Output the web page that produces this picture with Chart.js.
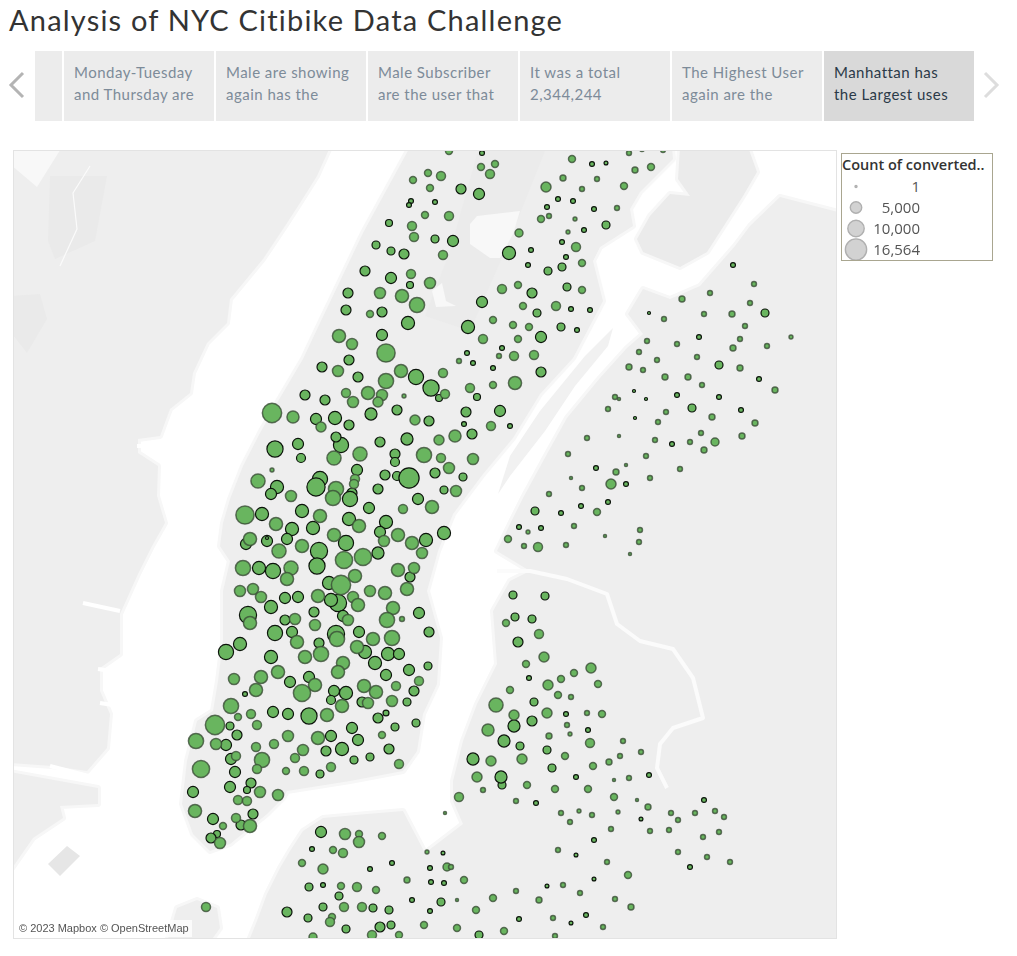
<!DOCTYPE html>
<html>
<head>
<meta charset="utf-8">
<title>Analysis of NYC Citibike Data Challenge</title>
<script src="https://cdn.jsdelivr.net/npm/chart.js@4"></script>
<style>
  html, body { margin: 0; padding: 0; background: #fff; width: 1017px; height: 956px; overflow: hidden; font-family: Lato, sans-serif; }
  .abs { position: absolute; }
  #title { left: 9px; top: 1px; font-size: 29px; line-height: 38px; color: #333; letter-spacing: 1.2px; white-space: nowrap; }
  .tile { position: absolute; top: 51px; height: 70px; background: #ececec; color: #7d8b99; font-size: 15px; line-height: 22px; letter-spacing: 0.48px; box-sizing: border-box; padding: 10px 0 0 10px; overflow: hidden; white-space: nowrap; }
  .tile.active { background: #d9d9d9; color: #2b3a48; }
  #mapBox { left: 13px; top: 150px; width: 822px; height: 787px; border: 1px solid #e3e3e3; }
  #mapBox canvas { position: absolute; left: 0; top: 0; }
  #attribution { left: 17px; top: 920px; width: 175px; height: 17px; background: rgba(255,255,255,.75); font: 11px/17px "Liberation Sans", sans-serif; color: #555; padding-left: 2px; box-sizing: border-box; white-space: nowrap; }
  #legendBox { left: 841px; top: 153px; width: 150px; height: 106px; border: 1px solid #a9a690; }
  #legendTitle { left: 842px; top: 154px; font: 600 14.5px/21px "Open Sans", sans-serif; color: #333; white-space: nowrap; }
  .legendLabel { position: absolute; right: 97px; font: 15px/21px "Open Sans", sans-serif; color: #555; text-align: right; }
</style>
</head>
<body>
<div id="title" class="abs">Analysis of NYC Citibike Data Challenge</div>
<svg class="abs" style="left:0;top:60px" width="40" height="50"><polyline points="23,15 11,27 23,39" transform="translate(0,-2)" fill="none" stroke="#b4b4b4" stroke-width="3"/></svg>
<svg class="abs" style="left:977px;top:60px" width="30" height="50"><polyline points="8,15 20,27 8,39" transform="translate(0,-2)" fill="none" stroke="#dddddd" stroke-width="3"/></svg>
<div id="tiles"></div>
<div id="mapBox" class="abs"><canvas id="mapChart" width="822" height="787"></canvas></div>
<div id="attribution" class="abs">© 2023 Mapbox © OpenStreetMap</div>
<div id="legendBox" class="abs"></div>
<div id="legendTitle" class="abs">Count of converted..</div>
<canvas id="legendChart" class="abs" style="left:842px;top:176px" width="36" height="84"></canvas>
<div id="legendLabels"></div>

<script>
  const storyPoints = [
    ['', ''],
    ['Monday-Tuesday', 'and Thursday are'],
    ['Male are showing', 'again has the'],
    ['Male Subscriber', 'are the user that'],
    ['It was a total', '2,344,244'],
    ['The Highest User', 'again are the'],
    ['Manhattan has', 'the Largest uses']
  ];
  const tileLeft = [35, 64, 216, 368, 520, 672, 824];
  const tileWidth = [27, 150, 150, 150, 150, 150, 150];
  const activeTile = 6;

  const legendCounts = [1, 5000, 10000, 16564];
  const legendText = ['1', '5,000', '10,000', '16,564'];

  // stations as [map x, map y, trips]. soft = grey ring, outlined = black ring
  const softStations = [
    [449,150,1490],[481,166,1490],[495,163,1490],[490,173,2560],[572,158,1490],[428,172,1490],[441,175,2560],[413,179,1490],
    [563,177,1060],[597,178,700],[430,187,1490],[546,186,3200],[582,188,700],[617,207,700],[425,214,1490],[449,215,2560],
    [541,218,1490],[549,215,700],[575,218,420],[412,225,2560],[519,232,1990],[568,231,420],[414,236,2560],[576,246,2560],
    [443,254,2560],[582,262,1490],[411,273,2560],[430,282,3925],[502,288,2560],[518,284,1490],[582,289,1490],[380,292,3925],
    [402,295,5580],[417,304,7530],[523,305,1490],[556,305,2560],[370,313,1490],[493,319,1490],[513,324,1490],[529,326,1490],
    [339,335,5580],[352,343,3925],[483,338,2560],[518,338,1490],[499,355,700],[514,355,2560],[534,354,2560],[386,352,11000],
    [459,360,700],[338,370,3925],[401,370,5580],[443,372,2560],[386,380,7530],[515,382,5580],[493,384,1490],[470,387,2560],
    [346,392,2560],[368,392,5580],[382,394,3925],[445,393,2560],[404,395,420],[615,396,700],[353,401,3925],[378,401,3200],
    [415,419,3200],[455,435,4700],[439,439,3200],[272,412,12300],[293,416,4700],[321,426,3200],[334,457,6520],[360,453,6520],
    [424,454,7530],[441,457,2560],[449,467,3925],[473,458,3925],[355,478,2560],[354,483,2560],[456,490,3925],[272,469,420],
    [258,480,6520],[291,495,3925],[336,488,7530],[333,497,7530],[432,506,5580],[403,508,2560],[245,514,11000],[320,515,5580],
    [276,523,5580],[359,525,5580],[334,534,5580],[398,534,5580],[384,540,3925],[412,542,5580],[422,552,3925],[250,538,5580],
    [302,545,5580],[279,550,6520],[344,559,9760],[363,556,9760],[243,567,7530],[291,567,6520],[287,578,5580],[355,575,5580],
    [341,584,12300],[398,569,5580],[414,567,3925],[407,588,5580],[385,592,5580],[370,590,3925],[240,590,3925],[253,588,3925],
    [261,596,3925],[318,595,5580],[353,596,3925],[358,604,5580],[393,607,5580],[387,619,7530],[402,618,700],[250,622,5580],
    [348,619,3925],[295,618,3925],[315,624,3925],[297,641,5580],[337,638,7530],[373,638,5580],[392,637,7530],[321,653,7530],
    [305,656,5580],[357,646,5580],[343,662,5580],[338,671,5580],[419,680,2560],[234,678,3925],[261,676,5580],[278,671,5580],
    [315,684,5580],[256,689,5580],[302,692,9760],[364,685,5580],[376,691,5580],[396,685,2560],[368,702,3925],[342,705,5580],
    [392,700,3925],[231,705,7530],[327,714,5580],[251,713,2560],[238,716,1490],[382,734,1490],[215,724,12300],[257,724,2560],
    [196,740,7530],[216,743,3925],[256,746,2560],[274,743,2560],[288,735,3925],[318,737,5580],[303,749,3925],[295,757,2560],
    [399,763,2560],[236,755,2560],[262,759,7530],[201,768,9760],[257,768,2560],[286,770,1490],[304,770,2560],[331,766,2560],
    [260,791,3925],[278,794,3925],[238,799,2560],[247,800,2560],[195,810,5580],[236,817,2560],[250,825,5580],[223,825,1490],
    [220,842,3925],[345,833,3925],[359,833,1490],[359,841,3925],[382,835,1490],[333,849,1490],[343,852,2560],[427,851,420],
    [302,862,1490],[323,868,3200],[447,866,1990],[451,866,700],[407,879,1060],[464,879,1490],[341,885,1490],[357,886,2560],
    [376,889,1490],[206,906,2560],[344,906,2560],[362,906,2560],[457,899,200],[476,909,1490],[493,897,1490],[516,890,700],
    [539,899,1060],[563,884,700],[580,892,700],[615,898,700],[628,874,1490],[607,861,700],[558,849,700],[611,828,700],
    [650,830,700],[570,821,700],[561,812,700],[592,814,700],[618,811,420],[579,810,420],[631,906,1060],[553,917,700],
    [603,926,700],[332,916,1490],[330,921,2560],[424,924,1490],[457,927,1490],[504,930,1490],[399,934,1490],[372,934,2560],
    [313,936,1990],[555,935,700],[506,622,1490],[539,633,2560],[544,656,3200],[526,663,1490],[591,667,3200],[574,672,1490],
    [561,678,1490],[548,684,3200],[598,683,1490],[510,689,1490],[558,694,1490],[571,696,700],[496,704,6520],[547,712,3200],
    [587,712,700],[602,713,1490],[514,714,3200],[567,724,700],[488,729,4700],[570,733,420],[549,735,1060],[590,742,2560],
    [623,740,700],[641,751,700],[620,755,700],[609,761,1060],[565,755,1490],[593,765,1490],[491,760,3200],[522,758,3200],
    [629,777,700],[614,779,200],[477,776,3200],[527,784,1490],[555,788,1490],[588,788,1490],[483,789,700],[459,796,2560],
    [614,796,1490],[516,800,700],[637,799,200],[648,806,1060],[671,812,700],[695,812,700],[715,810,700],[724,816,700],
    [678,819,700],[669,829,700],[703,836,700],[719,831,700],[678,851,700],[707,856,700],[730,861,700],[445,812,200],
    [754,283,700],[710,292,700],[682,298,1060],[750,302,700],[732,313,1060],[704,313,700],[664,318,700],[745,325,700],
    [740,338,700],[791,336,420],[647,340,700],[677,343,700],[733,347,1060],[767,345,700],[639,351,700],[657,359,700],
    [697,356,700],[629,366,1060],[643,369,700],[740,367,1060],[665,376,1060],[688,376,1060],[702,384,700],[775,389,1060],
    [619,398,200],[608,408,700],[666,411,700],[712,416,1060],[658,421,700],[755,422,1060],[701,432,700],[742,435,1060],
    [587,437,700],[619,435,200],[655,439,700],[690,441,700],[715,441,1990],[704,449,1060],[568,453,700],[646,455,700],
    [626,464,200],[680,468,700],[616,471,1060],[571,477,200],[650,477,700],[611,483,3200],[582,487,700],[549,493,700],
    [597,511,1490],[574,525,700],[640,529,700],[605,535,200],[639,541,700],[528,531,420],[508,538,1490],[524,545,700],
    [538,546,2560],[566,544,700],[630,553,200],[491,425,2560],[629,152,700],[642,148,700],[663,149,700],[635,169,1060],
    [651,166,1490],[624,185,1490]
  ];
  const outlinedStations = [
    [482,152,700],[592,163,700],[606,162,420],[461,188,3200],[479,193,3925],[411,200,700],[409,204,700],[435,201,700],
    [558,198,700],[573,200,700],[547,206,700],[594,208,700],[389,222,1490],[606,224,1990],[584,229,700],[435,238,1990],
    [453,240,3925],[562,241,700],[376,244,1990],[391,250,1990],[404,253,3200],[509,252,5580],[531,249,700],[566,256,700],
    [528,264,700],[562,266,1990],[548,270,1990],[365,270,3200],[391,277,3925],[410,284,1490],[532,292,3200],[567,286,1990],
    [348,292,3200],[482,301,3925],[571,308,700],[590,309,700],[537,312,1990],[346,309,3200],[382,311,3200],[408,322,5580],
    [561,326,1990],[577,329,700],[468,326,5580],[382,334,3925],[541,336,3925],[502,347,700],[467,352,700],[349,359,3200],
    [473,362,700],[493,367,700],[541,371,3200],[322,366,3200],[358,376,3200],[416,376,7530],[431,387,8600],[439,397,1490],
    [477,396,1490],[325,399,3200],[305,394,3200],[371,413,4700],[397,409,3200],[429,420,3200],[466,411,3200],[464,423,700],
    [472,433,3200],[407,438,4700],[380,441,3200],[316,418,3925],[335,417,5580],[349,424,3200],[341,444,7530],[336,436,3200],
    [298,443,3925],[275,448,8600],[301,457,2560],[395,453,3200],[395,461,2560],[357,469,3925],[385,474,3200],[397,475,2560],
    [409,477,13650],[435,472,3200],[463,476,1990],[444,489,1990],[277,486,5580],[271,493,3925],[320,478,7530],[316,486,11000],
    [352,492,3200],[350,498,7530],[378,488,3200],[418,498,3925],[369,507,3925],[262,513,5580],[302,510,5580],[292,528,5580],
    [313,527,5580],[349,518,5580],[386,521,5580],[380,531,3925],[346,542,7530],[444,532,5580],[426,539,5580],[246,543,3925],
    [267,540,3925],[267,537,200],[287,538,3925],[319,550,9760],[378,552,4700],[259,567,5580],[273,570,7530],[317,565,8600],
    [329,582,5580],[410,576,3200],[271,606,5580],[285,597,3925],[298,596,3925],[338,602,9760],[331,599,5580],[419,612,3925],
    [248,614,9760],[314,611,3200],[343,615,3925],[285,619,3200],[275,632,7530],[292,631,3925],[359,631,3925],[336,633,9760],
    [429,631,3200],[240,643,5580],[226,651,7530],[319,642,3200],[271,656,5580],[365,651,5580],[388,653,5580],[399,653,3925],
    [375,662,5580],[409,669,3925],[428,665,1990],[386,674,3925],[309,676,3925],[290,681,3925],[245,693,700],[334,690,3925],
    [346,692,5580],[414,690,3200],[331,699,2560],[362,701,3200],[407,701,1990],[273,711,3925],[288,713,3925],[309,715,8600],
    [378,717,3200],[386,712,1060],[352,727,3925],[416,722,1990],[395,726,1990],[230,725,1990],[237,734,3200],[226,744,3925],
    [331,735,3925],[358,739,3925],[342,748,5580],[326,750,3200],[389,748,3200],[354,759,1990],[370,756,1990],[231,758,3925],
    [235,771,3925],[320,773,1990],[193,791,3925],[230,786,3925],[251,782,3200],[247,789,1490],[213,818,3925],[253,813,3200],
    [241,824,3200],[217,833,1490],[211,837,3200],[321,831,3925],[312,848,700],[392,862,700],[370,868,700],[430,867,700],
    [443,852,420],[431,881,700],[444,882,700],[309,886,1990],[323,884,700],[339,895,1990],[287,911,3200],[323,906,1990],
    [373,907,1990],[389,909,1990],[412,899,700],[441,901,1990],[430,910,700],[547,885,420],[594,878,420],[576,854,420],
    [594,839,700],[641,818,420],[586,914,700],[519,918,700],[571,922,420],[308,917,1990],[346,928,1990],[380,926,3200],
    [391,924,1990],[479,934,1990],[513,594,1990],[545,595,1990],[515,616,1990],[532,618,1990],[518,641,3200],[529,677,700],
    [534,701,1990],[566,713,700],[532,720,3200],[514,725,4700],[588,729,700],[504,740,4700],[520,745,1990],[547,749,1990],
    [473,758,4700],[552,767,1990],[649,774,700],[576,776,700],[502,784,1990],[501,776,4700],[536,802,700],[704,799,700],
    [690,866,700],[500,410,3925],[510,425,700],[765,312,1990],[649,312,200],[699,336,700],[719,364,1990],[759,378,700],
    [634,390,200],[646,398,200],[677,394,700],[719,396,700],[692,407,1990],[741,409,700],[635,417,200],[672,443,700],
    [596,467,700],[626,483,700],[608,501,700],[581,505,700],[561,512,700],[535,510,1990],[519,526,700],[541,527,700],
    [733,264,700]
  ];
  const overlaidStations = [[408,479,4700]];

  // basemap outlines, same map units as the stations
  const newJersey = [[10,146],[330,146],[317,175],[300,202],[287,222],[263,258],[230,298],[227,322],[207,342],[193,372],[190,392],[170,408],[160,435],[138,438],[138,452],[158,465],[157,495],[165,522],[152,545],[138,573],[120,613],[120,653],[100,667],[100,690],[110,713],[107,747],[87,770],[52,765],[10,762]];
  const bayonne = [[10,771],[98,787],[98,803],[60,805],[63,817],[33,837],[10,870]];
  const libertyIsland = [[48,863],[67,845],[80,855],[60,875]];
  const governorsIsland = [[167,941],[177,907],[197,899],[217,907],[220,927],[210,941]];
  const manhattan = [[410,146],[363,232],[320,322],[303,358],[277,402],[260,432],[243,465],[230,498],[223,522],[220,545],[230,560],[223,590],[223,640],[218,680],[213,710],[197,720],[187,760],[182,803],[193,833],[210,850],[230,843],[267,813],[283,797],[287,790],[350,780],[403,770],[417,750],[423,713],[437,683],[440,637],[427,590],[438,550],[453,513],[483,473],[513,437],[540,393],[573,357],[603,300],[593,260],[600,246],[633,225],[630,208],[640,191],[673,158],[672,146]];
  const randallsIsland = [[680,146],[748,146],[757,171],[743,195],[707,251],[680,266],[643,251],[637,238],[650,215],[670,193],[690,195],[678,178]];
  const queensBrooklyn = [[842,942],[248,942],[257,920],[267,893],[280,867],[290,850],[303,830],[323,817],[367,813],[403,810],[425,852],[463,823],[453,800],[453,780],[463,740],[477,703],[497,663],[493,610],[510,580],[530,570],[497,550],[510,523],[523,497],[547,453],[567,417],[600,377],[627,347],[643,333],[628,313],[643,288],[670,298],[700,285],[735,245],[750,225],[780,196],[842,212]];
  const rooseveltIsland = [[613,327],[608,345],[575,385],[545,430],[510,475],[498,493],[510,455],[540,410],[585,355]];
  const centralPark = [[478,150],[545,150],[505,250],[470,330],[425,315],[450,250]];
  const reservoir = [[470,223],[477,215],[520,210],[513,233],[500,257],[490,257],[470,243]];
  const parkLake = [[432,290],[442,282],[446,300],[456,305],[436,306]];
  const meadowlands = [[50,175],[107,175],[95,240],[55,258],[48,240]];
  const westFlats = [[10,295],[40,293],[47,318],[27,352],[10,330]];
  const northCorner = [[10,146],[62,146],[37,186],[10,163]];
  const newtownCreek = [[497,570],[530,570],[567,578],[607,593],[617,623],[640,640],[673,648],[693,677],[703,717],[673,727],[660,743],[657,767],[667,787]];
  const hackensackCreek = [[90,165],[73,192],[77,228],[60,265]];
  const jerseyPiers = [[[83,602],[120,610]],[[98,668],[125,672]],[[100,702],[125,706]],[[50,765],[100,778]],[[137,445],[165,445]]];

  function stationPoint(station) {
    return { x: station[0], y: station[1], r: bubbleRadius(station[2]) };
  }

  function bubbleRadius(count) {
    return Math.max(1.5, 0.085 * Math.sqrt(count) + 0.2);
  }

  const mapBackdrop = {
    id: 'mapBackdrop',
    beforeDatasetsDraw(chart) {
      const { ctx, chartArea, scales } = chart;
      const trace = pts => {
        ctx.beginPath();
        pts.forEach((p, i) => {
          const x = scales.x.getPixelForValue(p[0]);
          const y = scales.y.getPixelForValue(p[1]);
          if (i === 0) ctx.moveTo(x, y); else ctx.lineTo(x, y);
        });
      };
      const land = (pts, color, halo) => {
        trace(pts);
        ctx.closePath();
        if (halo) {
          ctx.strokeStyle = halo;
          ctx.lineWidth = 6;
          ctx.lineJoin = 'round';
          ctx.stroke();
        }
        ctx.fillStyle = color;
        ctx.fill();
      };
      ctx.save();
      ctx.beginPath();
      ctx.rect(chartArea.left, chartArea.top, chartArea.width, chartArea.height);
      ctx.clip();
      ctx.fillStyle = '#ffffff';
      ctx.fillRect(chartArea.left, chartArea.top, chartArea.width, chartArea.height);
      [newJersey, bayonne, governorsIsland, manhattan, queensBrooklyn].forEach(pts => land(pts, '#eeeeee', '#f7f7f7'));
      land(randallsIsland, '#ebebeb', '#f7f7f7');
      land(rooseveltIsland, '#f1f1f1', null);
      land(libertyIsland, '#e6e6e6', null);
      land(centralPark, '#ebebeb', null);
      land(reservoir, '#f8f8f8', null);
      land(parkLake, '#f8f8f8', null);
      land(meadowlands, '#eaeaea', null);
      land(westFlats, '#eaeaea', null);
      land(northCorner, '#f8f8f8', null);
      ctx.strokeStyle = '#fbfbfb';
      ctx.lineWidth = 4;
      trace(newtownCreek);
      ctx.stroke();
      ctx.lineWidth = 1.2;
      trace(hackensackCreek);
      ctx.stroke();
      ctx.strokeStyle = '#ffffff';
      ctx.lineWidth = 4;
      jerseyPiers.forEach(pier => { trace(pier); ctx.stroke(); });
      ctx.restore();
    }
  };

  const hiddenAxis = (min, max, reverse) => ({ type: 'linear', display: false, min, max, reverse });
  const stationFill = '#69b55f';
  const softRing = 'rgba(58,78,54,0.8)';

  new Chart(document.getElementById('mapChart'), {
    type: 'bubble',
    plugins: [mapBackdrop],
    data: {
      datasets: [
        { label: 'Soft', data: softStations.map(stationPoint), backgroundColor: stationFill, borderColor: softRing, borderWidth: 1.5 },
        { label: 'Outlined', data: outlinedStations.map(stationPoint), backgroundColor: stationFill, borderColor: '#0c140b', borderWidth: 1.2 },
        { label: 'Overlaid', data: overlaidStations.map(stationPoint), backgroundColor: stationFill, borderColor: softRing, borderWidth: 1.5 }
      ]
    },
    options: {
      responsive: false,
      animation: false,
      layout: { padding: 0, autoPadding: false },
      plugins: { legend: { display: false }, tooltip: { enabled: false } },
      scales: { x: hiddenAxis(14, 836, false), y: hiddenAxis(150, 937, true) }
    }
  });

  new Chart(document.getElementById('legendChart'), {
    type: 'bubble',
    data: {
      datasets: [{
        data: legendCounts.map((count, i) => ({ x: 0, y: i, r: bubbleRadius(count) - 0.5 })),
        backgroundColor: '#d2d2d2',
        borderColor: '#b0b0b0',
        borderWidth: 1.4,
        clip: false
      }]
    },
    options: {
      responsive: false,
      animation: false,
      layout: { padding: 0, autoPadding: false },
      plugins: { legend: { display: false }, tooltip: { enabled: false } },
      scales: { x: hiddenAxis(-1, 1.57, false), y: hiddenAxis(-0.5, 3.5, true) }
    }
  });

  const tiles = document.getElementById('tiles');
  storyPoints.forEach((lines, i) => {
    const tile = document.createElement('div');
    tile.className = i === activeTile ? 'tile active' : 'tile';
    tile.style.left = tileLeft[i] + 'px';
    tile.style.width = tileWidth[i] + 'px';
    tile.innerHTML = lines.join('<br>');
    tiles.appendChild(tile);
  });

  const legendLabels = document.getElementById('legendLabels');
  legendText.forEach((text, i) => {
    const label = document.createElement('div');
    label.className = 'legendLabel';
    label.style.top = (176 + i * 21) + 'px';
    label.textContent = text;
    legendLabels.appendChild(label);
  });
</script>
</body>
</html>
